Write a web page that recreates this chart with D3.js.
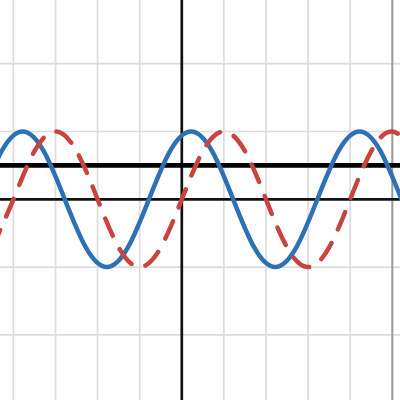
<!DOCTYPE html>
<html>
<head>
<meta charset="utf-8">
<script src="https://cdn.jsdelivr.net/npm/d3@7"></script>
<style>
  html, body { margin: 0; padding: 0; background: #fff; }
  svg { display: block; }
</style>
</head>
<body>
<div id="chart"></div>
<script>
const WIDTH = 400;
const HEIGHT = 400;

// grid positions (graph units)
const gridX = [-4, -3, -2, -1, 1, 2, 3, 4];
const edgeX = [5];
const gridY = [-2, -1, 1, 2];
const levelY = [0.5];

// blue solid wave, read at eighth-period points
const blueX = [-4.78, -4.28, -3.78, -3.28, -2.78, -2.28, -1.78, -1.28, -0.78, -0.28,
  0.22, 0.72, 1.22, 1.72, 2.22, 2.72, 3.22, 3.72, 4.22, 4.72, 5.22, 5.72];
const blueY = [0, 0.71, 1, 0.71, 0, -0.71, -1, -0.71, 0, 0.71,
  1, 0.71, 0, -0.71, -1, -0.71, 0, 0.71, 1, 0.71, 0, -0.71];

// red dashed wave
const redX = [-4.5, -4, -3.5, -3, -2.5, -2, -1.5, -1, -0.5, 0,
  0.5, 1, 1.5, 2, 2.5, 3, 3.5, 4, 4.5, 5, 5.5];
const redY = [-0.71, 0, 0.71, 1, 0.71, 0, -0.71, -1, -0.71, 0,
  0.71, 1, 0.71, 0, -0.71, -1, -0.71, 0, 0.71, 1, 0.71];

const x = d3.scaleLinear()
  .domain([-181.8 / 42.1, (WIDTH - 181.8) / 42.1])
  .range([0, WIDTH]);
const y = d3.scaleLinear()
  .domain([199.3 / 67.8, (199.3 - HEIGHT) / 67.8])
  .range([0, HEIGHT]);

const svg = d3.select("#chart").append("svg")
  .attr("width", WIDTH)
  .attr("height", HEIGHT);

// grid
svg.append("g").selectAll("line").data(gridX).enter().append("line")
  .attr("x1", d => x(d)).attr("x2", d => x(d))
  .attr("y1", 0).attr("y2", HEIGHT)
  .attr("stroke", "#dcdcdc").attr("stroke-width", 1.7);
svg.append("g").selectAll("line").data(gridY).enter().append("line")
  .attr("x1", 0).attr("x2", WIDTH)
  .attr("y1", d => y(d)).attr("y2", d => y(d))
  .attr("stroke", "#dcdcdc").attr("stroke-width", 1.7);
svg.append("g").selectAll("line").data(edgeX).enter().append("line")
  .attr("x1", d => x(d)).attr("x2", d => x(d))
  .attr("y1", 0).attr("y2", HEIGHT)
  .attr("stroke", "#999").attr("stroke-width", 2);

// axes
svg.append("line")
  .attr("x1", x(0)).attr("x2", x(0))
  .attr("y1", 0).attr("y2", HEIGHT)
  .attr("stroke", "#111").attr("stroke-width", 2.7);
svg.append("line")
  .attr("x1", 0).attr("x2", WIDTH)
  .attr("y1", y(0)).attr("y2", y(0))
  .attr("stroke", "#111").attr("stroke-width", 2.7);

// horizontal level line
svg.append("g").selectAll("line").data(levelY).enter().append("line")
  .attr("x1", 0).attr("x2", WIDTH)
  .attr("y1", d => y(d)).attr("y2", d => y(d))
  .attr("stroke", "#000").attr("stroke-width", 4.8);

const line = d3.line()
  .x(d => x(d[0]))
  .y(d => y(d[1]))
  .curve(d3.curveNatural);

svg.append("path")
  .datum(blueX.map((v, i) => [v, blueY[i]]))
  .attr("d", line)
  .attr("fill", "none")
  .attr("stroke", "#2d70b3")
  .attr("stroke-width", 4.5)
  .attr("stroke-linecap", "round");

svg.append("path")
  .datum(redX.map((v, i) => [v, redY[i]]))
  .attr("d", line)
  .attr("fill", "none")
  .attr("stroke", "#c74440")
  .attr("stroke-width", 4.5)
  .attr("stroke-linecap", "round")
  .attr("stroke-dasharray", "19,15");
</script>
</body>
</html>
